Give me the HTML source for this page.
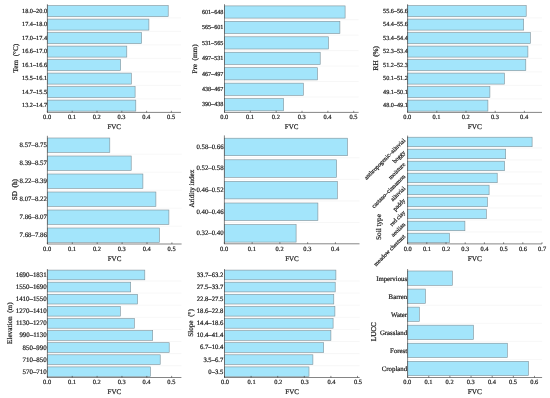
<!DOCTYPE html><html><head><meta charset="utf-8"><style>html,body{margin:0;padding:0;background:#fff}svg{display:block}</style></head><body><svg width="550" height="398" viewBox="0 0 550 398" font-family="Liberation Serif, Times New Roman, serif" text-rendering="geometricPrecision" fill="#1a1a1a"><g stroke="#1a1a1a" stroke-width="0.2">
<rect width="550" height="398" fill="#fff" stroke="none"/>
<line x1="47.4" y1="17.85" x2="181" y2="17.85" stroke="#eeeeee" stroke-width="0.5"/>
<line x1="47.4" y1="31.35" x2="181" y2="31.35" stroke="#eeeeee" stroke-width="0.5"/>
<line x1="47.4" y1="44.85" x2="181" y2="44.85" stroke="#eeeeee" stroke-width="0.5"/>
<line x1="47.4" y1="58.35" x2="181" y2="58.35" stroke="#eeeeee" stroke-width="0.5"/>
<line x1="47.4" y1="71.85" x2="181" y2="71.85" stroke="#eeeeee" stroke-width="0.5"/>
<line x1="47.4" y1="85.35" x2="181" y2="85.35" stroke="#eeeeee" stroke-width="0.5"/>
<line x1="47.4" y1="98.85" x2="181" y2="98.85" stroke="#eeeeee" stroke-width="0.5"/>
<rect x="47.4" y="5.60" width="120.80" height="11" fill="#a3e5fb" stroke="#7f9098" stroke-width="0.6"/>
<text transform="translate(47.00 12.86) scale(1.0 1)" font-size="6.25" text-anchor="end">18.0–20.0</text>
<rect x="47.4" y="19.10" width="101.50" height="11" fill="#a3e5fb" stroke="#7f9098" stroke-width="0.6"/>
<text transform="translate(47.00 26.36) scale(1.0 1)" font-size="6.25" text-anchor="end">17.4–18.0</text>
<rect x="47.4" y="32.60" width="94.20" height="11" fill="#a3e5fb" stroke="#7f9098" stroke-width="0.6"/>
<text transform="translate(47.00 39.86) scale(1.0 1)" font-size="6.25" text-anchor="end">17.0–17.4</text>
<rect x="47.4" y="46.10" width="79.40" height="11" fill="#a3e5fb" stroke="#7f9098" stroke-width="0.6"/>
<text transform="translate(47.00 53.36) scale(1.0 1)" font-size="6.25" text-anchor="end">16.6–17.0</text>
<rect x="47.4" y="59.60" width="73.20" height="11" fill="#a3e5fb" stroke="#7f9098" stroke-width="0.6"/>
<text transform="translate(47.00 66.86) scale(1.0 1)" font-size="6.25" text-anchor="end">16.1–16.6</text>
<rect x="47.4" y="73.10" width="83.90" height="11" fill="#a3e5fb" stroke="#7f9098" stroke-width="0.6"/>
<text transform="translate(47.00 80.36) scale(1.0 1)" font-size="6.25" text-anchor="end">15.5–16.1</text>
<rect x="47.4" y="86.60" width="87.70" height="11" fill="#a3e5fb" stroke="#7f9098" stroke-width="0.6"/>
<text transform="translate(47.00 93.86) scale(1.0 1)" font-size="6.25" text-anchor="end">14.7–15.5</text>
<rect x="47.4" y="100.10" width="88.40" height="11" fill="#a3e5fb" stroke="#7f9098" stroke-width="0.6"/>
<text transform="translate(47.00 107.36) scale(1.0 1)" font-size="6.25" text-anchor="end">13.2–14.7</text>
<line x1="47.4" y1="4.2" x2="47.4" y2="112.4" stroke="#444" stroke-width="0.65"/>
<line x1="47.0" y1="112.4" x2="181" y2="112.4" stroke="#333" stroke-width="0.6"/>
<line x1="47.40" y1="112.4" x2="47.40" y2="110.8" stroke="#333" stroke-width="0.6"/>
<text transform="translate(47.10 119.10) scale(1.0 1)" font-size="6.45" text-anchor="middle">0.0</text>
<line x1="72.20" y1="112.4" x2="72.20" y2="110.8" stroke="#333" stroke-width="0.6"/>
<text transform="translate(71.90 119.10) scale(1.0 1)" font-size="6.45" text-anchor="middle">0.1</text>
<line x1="97.00" y1="112.4" x2="97.00" y2="110.8" stroke="#333" stroke-width="0.6"/>
<text transform="translate(96.70 119.10) scale(1.0 1)" font-size="6.45" text-anchor="middle">0.2</text>
<line x1="121.80" y1="112.4" x2="121.80" y2="110.8" stroke="#333" stroke-width="0.6"/>
<text transform="translate(121.50 119.10) scale(1.0 1)" font-size="6.45" text-anchor="middle">0.3</text>
<line x1="146.60" y1="112.4" x2="146.60" y2="110.8" stroke="#333" stroke-width="0.6"/>
<text transform="translate(146.30 119.10) scale(1.0 1)" font-size="6.45" text-anchor="middle">0.4</text>
<line x1="171.40" y1="112.4" x2="171.40" y2="110.8" stroke="#333" stroke-width="0.6"/>
<text transform="translate(171.10 119.10) scale(1.0 1)" font-size="6.45" text-anchor="middle">0.5</text>
<text transform="translate(114.20 129.10) scale(1.0 1)" font-size="7.00" text-anchor="middle">FVC</text>
<text transform="translate(17.50 58.20) rotate(-90) scale(1.0 1)" font-size="7.20" text-anchor="middle">Tem <tspan dx="1.8">(°C)</tspan></text>
<line x1="224.5" y1="19.73" x2="358.6" y2="19.73" stroke="#eeeeee" stroke-width="0.5"/>
<line x1="224.5" y1="35.17" x2="358.6" y2="35.17" stroke="#eeeeee" stroke-width="0.5"/>
<line x1="224.5" y1="50.62" x2="358.6" y2="50.62" stroke="#eeeeee" stroke-width="0.5"/>
<line x1="224.5" y1="66.07" x2="358.6" y2="66.07" stroke="#eeeeee" stroke-width="0.5"/>
<line x1="224.5" y1="81.53" x2="358.6" y2="81.53" stroke="#eeeeee" stroke-width="0.5"/>
<line x1="224.5" y1="96.98" x2="358.6" y2="96.98" stroke="#eeeeee" stroke-width="0.5"/>
<rect x="224.5" y="5.90" width="120.60" height="12.2" fill="#a3e5fb" stroke="#7f9098" stroke-width="0.6"/>
<text transform="translate(223.40 13.73) scale(1.0 1)" font-size="6.15" text-anchor="end">601–648</text>
<rect x="224.5" y="21.35" width="115.40" height="12.2" fill="#a3e5fb" stroke="#7f9098" stroke-width="0.6"/>
<text transform="translate(223.40 29.18) scale(1.0 1)" font-size="6.15" text-anchor="end">565–601</text>
<rect x="224.5" y="36.80" width="104.00" height="12.2" fill="#a3e5fb" stroke="#7f9098" stroke-width="0.6"/>
<text transform="translate(223.40 44.63) scale(1.0 1)" font-size="6.15" text-anchor="end">531–565</text>
<rect x="224.5" y="52.25" width="95.70" height="12.2" fill="#a3e5fb" stroke="#7f9098" stroke-width="0.6"/>
<text transform="translate(223.40 60.08) scale(1.0 1)" font-size="6.15" text-anchor="end">497–531</text>
<rect x="224.5" y="67.70" width="93.00" height="12.2" fill="#a3e5fb" stroke="#7f9098" stroke-width="0.6"/>
<text transform="translate(223.40 75.53) scale(1.0 1)" font-size="6.15" text-anchor="end">467–497</text>
<rect x="224.5" y="83.15" width="78.80" height="12.2" fill="#a3e5fb" stroke="#7f9098" stroke-width="0.6"/>
<text transform="translate(223.40 90.98) scale(1.0 1)" font-size="6.15" text-anchor="end">438–467</text>
<rect x="224.5" y="98.60" width="59.10" height="12.2" fill="#a3e5fb" stroke="#7f9098" stroke-width="0.6"/>
<text transform="translate(223.40 106.43) scale(1.0 1)" font-size="6.15" text-anchor="end">390–438</text>
<line x1="224.5" y1="4.2" x2="224.5" y2="112.4" stroke="#444" stroke-width="0.65"/>
<line x1="224.1" y1="112.4" x2="358.6" y2="112.4" stroke="#333" stroke-width="0.6"/>
<line x1="224.50" y1="112.4" x2="224.50" y2="110.8" stroke="#333" stroke-width="0.6"/>
<text transform="translate(224.20 119.10) scale(1.0 1)" font-size="6.45" text-anchor="middle">0.0</text>
<line x1="250.34" y1="112.4" x2="250.34" y2="110.8" stroke="#333" stroke-width="0.6"/>
<text transform="translate(250.04 119.10) scale(1.0 1)" font-size="6.45" text-anchor="middle">0.1</text>
<line x1="276.18" y1="112.4" x2="276.18" y2="110.8" stroke="#333" stroke-width="0.6"/>
<text transform="translate(275.88 119.10) scale(1.0 1)" font-size="6.45" text-anchor="middle">0.2</text>
<line x1="302.02" y1="112.4" x2="302.02" y2="110.8" stroke="#333" stroke-width="0.6"/>
<text transform="translate(301.72 119.10) scale(1.0 1)" font-size="6.45" text-anchor="middle">0.3</text>
<line x1="327.86" y1="112.4" x2="327.86" y2="110.8" stroke="#333" stroke-width="0.6"/>
<text transform="translate(327.56 119.10) scale(1.0 1)" font-size="6.45" text-anchor="middle">0.4</text>
<line x1="353.70" y1="112.4" x2="353.70" y2="110.8" stroke="#333" stroke-width="0.6"/>
<text transform="translate(353.40 119.10) scale(1.0 1)" font-size="6.45" text-anchor="middle">0.5</text>
<text transform="translate(291.55 129.10) scale(1.0 1)" font-size="7.00" text-anchor="middle">FVC</text>
<text transform="translate(197.30 59.00) rotate(-90) scale(1.0 1)" font-size="7.20" text-anchor="middle">Pre <tspan dx="1.8">(mm)</tspan></text>
<line x1="407.6" y1="17.85" x2="542" y2="17.85" stroke="#eeeeee" stroke-width="0.5"/>
<line x1="407.6" y1="31.35" x2="542" y2="31.35" stroke="#eeeeee" stroke-width="0.5"/>
<line x1="407.6" y1="44.85" x2="542" y2="44.85" stroke="#eeeeee" stroke-width="0.5"/>
<line x1="407.6" y1="58.35" x2="542" y2="58.35" stroke="#eeeeee" stroke-width="0.5"/>
<line x1="407.6" y1="71.85" x2="542" y2="71.85" stroke="#eeeeee" stroke-width="0.5"/>
<line x1="407.6" y1="85.35" x2="542" y2="85.35" stroke="#eeeeee" stroke-width="0.5"/>
<line x1="407.6" y1="98.85" x2="542" y2="98.85" stroke="#eeeeee" stroke-width="0.5"/>
<rect x="407.6" y="5.60" width="118.60" height="11" fill="#a3e5fb" stroke="#7f9098" stroke-width="0.6"/>
<text transform="translate(407.80 12.85) scale(1.0 1)" font-size="6.20" text-anchor="end">55.6–56.6</text>
<rect x="407.6" y="19.10" width="116.10" height="11" fill="#a3e5fb" stroke="#7f9098" stroke-width="0.6"/>
<text transform="translate(407.80 26.35) scale(1.0 1)" font-size="6.20" text-anchor="end">54.4–55.6</text>
<rect x="407.6" y="32.60" width="122.70" height="11" fill="#a3e5fb" stroke="#7f9098" stroke-width="0.6"/>
<text transform="translate(407.80 39.85) scale(1.0 1)" font-size="6.20" text-anchor="end">53.4–54.4</text>
<rect x="407.6" y="46.10" width="120.30" height="11" fill="#a3e5fb" stroke="#7f9098" stroke-width="0.6"/>
<text transform="translate(407.80 53.35) scale(1.0 1)" font-size="6.20" text-anchor="end">52.3–53.4</text>
<rect x="407.6" y="59.60" width="118.20" height="11" fill="#a3e5fb" stroke="#7f9098" stroke-width="0.6"/>
<text transform="translate(407.80 66.85) scale(1.0 1)" font-size="6.20" text-anchor="end">51.2–52.3</text>
<rect x="407.6" y="73.10" width="96.80" height="11" fill="#a3e5fb" stroke="#7f9098" stroke-width="0.6"/>
<text transform="translate(407.80 80.35) scale(1.0 1)" font-size="6.20" text-anchor="end">50.1–51.2</text>
<rect x="407.6" y="86.60" width="82.30" height="11" fill="#a3e5fb" stroke="#7f9098" stroke-width="0.6"/>
<text transform="translate(407.80 93.85) scale(1.0 1)" font-size="6.20" text-anchor="end">49.1–50.1</text>
<rect x="407.6" y="100.10" width="80.30" height="11" fill="#a3e5fb" stroke="#7f9098" stroke-width="0.6"/>
<text transform="translate(407.80 107.35) scale(1.0 1)" font-size="6.20" text-anchor="end">48.0–49.1</text>
<line x1="407.6" y1="4.2" x2="407.6" y2="112.4" stroke="#444" stroke-width="0.65"/>
<line x1="407.20000000000005" y1="112.4" x2="542" y2="112.4" stroke="#333" stroke-width="0.6"/>
<line x1="407.60" y1="112.4" x2="407.60" y2="110.8" stroke="#333" stroke-width="0.6"/>
<text transform="translate(407.30 119.10) scale(1.0 1)" font-size="6.45" text-anchor="middle">0.0</text>
<line x1="436.80" y1="112.4" x2="436.80" y2="110.8" stroke="#333" stroke-width="0.6"/>
<text transform="translate(436.50 119.10) scale(1.0 1)" font-size="6.45" text-anchor="middle">0.1</text>
<line x1="466.00" y1="112.4" x2="466.00" y2="110.8" stroke="#333" stroke-width="0.6"/>
<text transform="translate(465.70 119.10) scale(1.0 1)" font-size="6.45" text-anchor="middle">0.2</text>
<line x1="495.20" y1="112.4" x2="495.20" y2="110.8" stroke="#333" stroke-width="0.6"/>
<text transform="translate(494.90 119.10) scale(1.0 1)" font-size="6.45" text-anchor="middle">0.3</text>
<line x1="524.40" y1="112.4" x2="524.40" y2="110.8" stroke="#333" stroke-width="0.6"/>
<text transform="translate(524.10 119.10) scale(1.0 1)" font-size="6.45" text-anchor="middle">0.4</text>
<text transform="translate(474.80 129.10) scale(1.0 1)" font-size="7.30" text-anchor="middle">FVC</text>
<text transform="translate(378.00 58.20) rotate(-90) scale(1.0 1)" font-size="7.20" text-anchor="middle" stroke-width="0.28">RH <tspan dx="1.8">(%)</tspan></text>
<line x1="47.4" y1="154.20" x2="181.6" y2="154.20" stroke="#eeeeee" stroke-width="0.5"/>
<line x1="47.4" y1="172.20" x2="181.6" y2="172.20" stroke="#eeeeee" stroke-width="0.5"/>
<line x1="47.4" y1="190.20" x2="181.6" y2="190.20" stroke="#eeeeee" stroke-width="0.5"/>
<line x1="47.4" y1="208.20" x2="181.6" y2="208.20" stroke="#eeeeee" stroke-width="0.5"/>
<line x1="47.4" y1="226.20" x2="181.6" y2="226.20" stroke="#eeeeee" stroke-width="0.5"/>
<rect x="47.4" y="138.00" width="62.40" height="14.4" fill="#a3e5fb" stroke="#7f9098" stroke-width="0.6"/>
<text transform="translate(46.80 147.14) scale(1.0 1)" font-size="6.80" text-anchor="end">8.57–8.75</text>
<rect x="47.4" y="156.00" width="83.80" height="14.4" fill="#a3e5fb" stroke="#7f9098" stroke-width="0.6"/>
<text transform="translate(46.80 165.14) scale(1.0 1)" font-size="6.80" text-anchor="end">8.39–8.57</text>
<rect x="47.4" y="174.00" width="95.50" height="14.4" fill="#a3e5fb" stroke="#7f9098" stroke-width="0.6"/>
<text transform="translate(46.80 183.14) scale(1.0 1)" font-size="6.80" text-anchor="end">8.22–8.39</text>
<rect x="47.4" y="192.00" width="108.50" height="14.4" fill="#a3e5fb" stroke="#7f9098" stroke-width="0.6"/>
<text transform="translate(46.80 201.14) scale(1.0 1)" font-size="6.80" text-anchor="end">8.07–8.22</text>
<rect x="47.4" y="210.00" width="121.50" height="14.4" fill="#a3e5fb" stroke="#7f9098" stroke-width="0.6"/>
<text transform="translate(46.80 219.14) scale(1.0 1)" font-size="6.80" text-anchor="end">7.86–8.07</text>
<rect x="47.4" y="228.00" width="112.00" height="14.4" fill="#a3e5fb" stroke="#7f9098" stroke-width="0.6"/>
<text transform="translate(46.80 237.14) scale(1.0 1)" font-size="6.80" text-anchor="end">7.68–7.86</text>
<line x1="47.4" y1="135.8" x2="47.4" y2="244.0" stroke="#444" stroke-width="0.65"/>
<line x1="47.0" y1="244.0" x2="181.6" y2="244.0" stroke="#333" stroke-width="0.6"/>
<line x1="47.40" y1="244.0" x2="47.40" y2="242.4" stroke="#333" stroke-width="0.6"/>
<text transform="translate(47.10 250.70) scale(1.0 1)" font-size="6.45" text-anchor="middle">0.0</text>
<line x1="72.30" y1="244.0" x2="72.30" y2="242.4" stroke="#333" stroke-width="0.6"/>
<text transform="translate(72.00 250.70) scale(1.0 1)" font-size="6.45" text-anchor="middle">0.1</text>
<line x1="97.20" y1="244.0" x2="97.20" y2="242.4" stroke="#333" stroke-width="0.6"/>
<text transform="translate(96.90 250.70) scale(1.0 1)" font-size="6.45" text-anchor="middle">0.2</text>
<line x1="122.10" y1="244.0" x2="122.10" y2="242.4" stroke="#333" stroke-width="0.6"/>
<text transform="translate(121.80 250.70) scale(1.0 1)" font-size="6.45" text-anchor="middle">0.3</text>
<line x1="147.00" y1="244.0" x2="147.00" y2="242.4" stroke="#333" stroke-width="0.6"/>
<text transform="translate(146.70 250.70) scale(1.0 1)" font-size="6.45" text-anchor="middle">0.4</text>
<line x1="171.90" y1="244.0" x2="171.90" y2="242.4" stroke="#333" stroke-width="0.6"/>
<text transform="translate(171.60 250.70) scale(1.0 1)" font-size="6.45" text-anchor="middle">0.5</text>
<text transform="translate(114.50 260.70) scale(1.0 1)" font-size="7.00" text-anchor="middle">FVC</text>
<text transform="translate(16.70 189.70) rotate(-90) scale(1.0 1)" font-size="7.20" text-anchor="middle" stroke-width="0.28">SD <tspan dx="1.8">(h)</tspan></text>
<line x1="224.4" y1="157.75" x2="359.5" y2="157.75" stroke="#eeeeee" stroke-width="0.5"/>
<line x1="224.4" y1="179.35" x2="359.5" y2="179.35" stroke="#eeeeee" stroke-width="0.5"/>
<line x1="224.4" y1="200.95" x2="359.5" y2="200.95" stroke="#eeeeee" stroke-width="0.5"/>
<line x1="224.4" y1="222.55" x2="359.5" y2="222.55" stroke="#eeeeee" stroke-width="0.5"/>
<rect x="224.4" y="138.20" width="123.10" height="17.5" fill="#a3e5fb" stroke="#7f9098" stroke-width="0.6"/>
<text transform="translate(223.60 148.89) scale(1.0 1)" font-size="6.80" text-anchor="end">0.58–0.66</text>
<rect x="224.4" y="159.80" width="112.20" height="17.5" fill="#a3e5fb" stroke="#7f9098" stroke-width="0.6"/>
<text transform="translate(223.60 170.49) scale(1.0 1)" font-size="6.80" text-anchor="end">0.52–0.58</text>
<rect x="224.4" y="181.40" width="112.90" height="17.5" fill="#a3e5fb" stroke="#7f9098" stroke-width="0.6"/>
<text transform="translate(223.60 192.09) scale(1.0 1)" font-size="6.80" text-anchor="end">0.46–0.52</text>
<rect x="224.4" y="203.00" width="93.50" height="17.5" fill="#a3e5fb" stroke="#7f9098" stroke-width="0.6"/>
<text transform="translate(223.60 213.69) scale(1.0 1)" font-size="6.80" text-anchor="end">0.40–0.46</text>
<rect x="224.4" y="224.60" width="71.70" height="17.5" fill="#a3e5fb" stroke="#7f9098" stroke-width="0.6"/>
<text transform="translate(223.60 235.29) scale(1.0 1)" font-size="6.80" text-anchor="end">0.32–0.40</text>
<line x1="224.4" y1="135.4" x2="224.4" y2="243.8" stroke="#444" stroke-width="0.65"/>
<line x1="224.0" y1="243.8" x2="359.5" y2="243.8" stroke="#333" stroke-width="0.6"/>
<line x1="224.40" y1="243.8" x2="224.40" y2="242.20000000000002" stroke="#333" stroke-width="0.6"/>
<text transform="translate(224.10 250.50) scale(1.0 1)" font-size="6.45" text-anchor="middle">0.0</text>
<line x1="252.15" y1="243.8" x2="252.15" y2="242.20000000000002" stroke="#333" stroke-width="0.6"/>
<text transform="translate(251.85 250.50) scale(1.0 1)" font-size="6.45" text-anchor="middle">0.1</text>
<line x1="279.90" y1="243.8" x2="279.90" y2="242.20000000000002" stroke="#333" stroke-width="0.6"/>
<text transform="translate(279.60 250.50) scale(1.0 1)" font-size="6.45" text-anchor="middle">0.2</text>
<line x1="307.65" y1="243.8" x2="307.65" y2="242.20000000000002" stroke="#333" stroke-width="0.6"/>
<text transform="translate(307.35 250.50) scale(1.0 1)" font-size="6.45" text-anchor="middle">0.3</text>
<line x1="335.40" y1="243.8" x2="335.40" y2="242.20000000000002" stroke="#333" stroke-width="0.6"/>
<text transform="translate(335.10 250.50) scale(1.0 1)" font-size="6.45" text-anchor="middle">0.4</text>
<text transform="translate(291.95 260.50) scale(1.0 1)" font-size="7.00" text-anchor="middle">FVC</text>
<text transform="translate(194.20 188.70) rotate(-90) scale(1.0 1)" font-size="7.05" text-anchor="middle">Aridity index</text>
<line x1="407.6" y1="147.95" x2="542" y2="147.95" stroke="#eeeeee" stroke-width="0.5"/>
<line x1="407.6" y1="159.95" x2="542" y2="159.95" stroke="#eeeeee" stroke-width="0.5"/>
<line x1="407.6" y1="171.95" x2="542" y2="171.95" stroke="#eeeeee" stroke-width="0.5"/>
<line x1="407.6" y1="183.95" x2="542" y2="183.95" stroke="#eeeeee" stroke-width="0.5"/>
<line x1="407.6" y1="195.95" x2="542" y2="195.95" stroke="#eeeeee" stroke-width="0.5"/>
<line x1="407.6" y1="207.95" x2="542" y2="207.95" stroke="#eeeeee" stroke-width="0.5"/>
<line x1="407.6" y1="219.95" x2="542" y2="219.95" stroke="#eeeeee" stroke-width="0.5"/>
<line x1="407.6" y1="231.95" x2="542" y2="231.95" stroke="#eeeeee" stroke-width="0.5"/>
<rect x="407.6" y="137.20" width="124.50" height="9.5" fill="#a3e5fb" stroke="#7f9098" stroke-width="0.6"/>
<text transform="translate(405.60 140.85) rotate(-45) scale(1.0 1)" font-size="6.00" text-anchor="end">anthropogenic–alluvial</text>
<rect x="407.6" y="149.20" width="98.10" height="9.5" fill="#a3e5fb" stroke="#7f9098" stroke-width="0.6"/>
<text transform="translate(405.60 152.85) rotate(-45) scale(1.0 1)" font-size="6.00" text-anchor="end">boggy</text>
<rect x="407.6" y="161.20" width="97.00" height="9.5" fill="#a3e5fb" stroke="#7f9098" stroke-width="0.6"/>
<text transform="translate(405.60 164.85) rotate(-45) scale(1.0 1)" font-size="6.00" text-anchor="end">moisture</text>
<rect x="407.6" y="173.20" width="89.60" height="9.5" fill="#a3e5fb" stroke="#7f9098" stroke-width="0.6"/>
<text transform="translate(405.60 176.85) rotate(-45) scale(1.0 1)" font-size="6.00" text-anchor="end">castano–cinnamon</text>
<rect x="407.6" y="185.20" width="81.50" height="9.5" fill="#a3e5fb" stroke="#7f9098" stroke-width="0.6"/>
<text transform="translate(405.60 188.85) rotate(-45) scale(1.0 1)" font-size="6.00" text-anchor="end">alluvial</text>
<rect x="407.6" y="197.20" width="79.80" height="9.5" fill="#a3e5fb" stroke="#7f9098" stroke-width="0.6"/>
<text transform="translate(405.60 200.85) rotate(-45) scale(1.0 1)" font-size="6.00" text-anchor="end">paddy</text>
<rect x="407.6" y="209.20" width="78.70" height="9.5" fill="#a3e5fb" stroke="#7f9098" stroke-width="0.6"/>
<text transform="translate(405.60 212.85) rotate(-45) scale(1.0 1)" font-size="6.00" text-anchor="end">red clay</text>
<rect x="407.6" y="221.20" width="57.30" height="9.5" fill="#a3e5fb" stroke="#7f9098" stroke-width="0.6"/>
<text transform="translate(405.60 224.85) rotate(-45) scale(1.0 1)" font-size="6.00" text-anchor="end">aeolian</text>
<rect x="407.6" y="233.20" width="41.80" height="9.5" fill="#a3e5fb" stroke="#7f9098" stroke-width="0.6"/>
<text transform="translate(405.60 236.85) rotate(-45) scale(1.0 1)" font-size="6.00" text-anchor="end">meadow chestnut</text>
<line x1="407.6" y1="135.6" x2="407.6" y2="243.9" stroke="#444" stroke-width="0.65"/>
<line x1="407.20000000000005" y1="243.9" x2="542" y2="243.9" stroke="#333" stroke-width="0.6"/>
<line x1="407.60" y1="243.9" x2="407.60" y2="242.3" stroke="#333" stroke-width="0.6"/>
<text transform="translate(407.70 250.60) scale(1.0 1)" font-size="6.45" text-anchor="middle">0.0</text>
<line x1="426.80" y1="243.9" x2="426.80" y2="242.3" stroke="#333" stroke-width="0.6"/>
<text transform="translate(426.90 250.60) scale(1.0 1)" font-size="6.45" text-anchor="middle">0.1</text>
<line x1="446.00" y1="243.9" x2="446.00" y2="242.3" stroke="#333" stroke-width="0.6"/>
<text transform="translate(446.10 250.60) scale(1.0 1)" font-size="6.45" text-anchor="middle">0.2</text>
<line x1="465.20" y1="243.9" x2="465.20" y2="242.3" stroke="#333" stroke-width="0.6"/>
<text transform="translate(465.30 250.60) scale(1.0 1)" font-size="6.45" text-anchor="middle">0.3</text>
<line x1="484.40" y1="243.9" x2="484.40" y2="242.3" stroke="#333" stroke-width="0.6"/>
<text transform="translate(484.50 250.60) scale(1.0 1)" font-size="6.45" text-anchor="middle">0.4</text>
<line x1="503.60" y1="243.9" x2="503.60" y2="242.3" stroke="#333" stroke-width="0.6"/>
<text transform="translate(503.70 250.60) scale(1.0 1)" font-size="6.45" text-anchor="middle">0.5</text>
<line x1="522.80" y1="243.9" x2="522.80" y2="242.3" stroke="#333" stroke-width="0.6"/>
<text transform="translate(522.90 250.60) scale(1.0 1)" font-size="6.45" text-anchor="middle">0.6</text>
<line x1="542.00" y1="243.9" x2="542.00" y2="242.3" stroke="#333" stroke-width="0.6"/>
<text transform="translate(542.10 250.60) scale(1.0 1)" font-size="6.45" text-anchor="middle">0.7</text>
<text transform="translate(474.80 260.60) scale(1.0 1)" font-size="7.30" text-anchor="middle">FVC</text>
<text transform="translate(381.30 227.00) rotate(-90) scale(1.0 1)" font-size="7.20" text-anchor="middle">Soil type</text>
<line x1="47.4" y1="281.00" x2="181.4" y2="281.00" stroke="#eeeeee" stroke-width="0.5"/>
<line x1="47.4" y1="293.10" x2="181.4" y2="293.10" stroke="#eeeeee" stroke-width="0.5"/>
<line x1="47.4" y1="305.20" x2="181.4" y2="305.20" stroke="#eeeeee" stroke-width="0.5"/>
<line x1="47.4" y1="317.30" x2="181.4" y2="317.30" stroke="#eeeeee" stroke-width="0.5"/>
<line x1="47.4" y1="329.40" x2="181.4" y2="329.40" stroke="#eeeeee" stroke-width="0.5"/>
<line x1="47.4" y1="341.50" x2="181.4" y2="341.50" stroke="#eeeeee" stroke-width="0.5"/>
<line x1="47.4" y1="353.60" x2="181.4" y2="353.60" stroke="#eeeeee" stroke-width="0.5"/>
<line x1="47.4" y1="365.70" x2="181.4" y2="365.70" stroke="#eeeeee" stroke-width="0.5"/>
<rect x="47.4" y="270.10" width="97.40" height="9.7" fill="#a3e5fb" stroke="#7f9098" stroke-width="0.6"/>
<text transform="translate(46.70 276.93) scale(1.0 1)" font-size="6.90" text-anchor="end">1690–1831</text>
<rect x="47.4" y="282.20" width="83.30" height="9.7" fill="#a3e5fb" stroke="#7f9098" stroke-width="0.6"/>
<text transform="translate(46.70 289.03) scale(1.0 1)" font-size="6.90" text-anchor="end">1550–1690</text>
<rect x="47.4" y="294.30" width="90.20" height="9.7" fill="#a3e5fb" stroke="#7f9098" stroke-width="0.6"/>
<text transform="translate(46.70 301.13) scale(1.0 1)" font-size="6.90" text-anchor="end">1410–1550</text>
<rect x="47.4" y="306.40" width="72.90" height="9.7" fill="#a3e5fb" stroke="#7f9098" stroke-width="0.6"/>
<text transform="translate(46.70 313.23) scale(1.0 1)" font-size="6.90" text-anchor="end">1270–1410</text>
<rect x="47.4" y="318.50" width="86.90" height="9.7" fill="#a3e5fb" stroke="#7f9098" stroke-width="0.6"/>
<text transform="translate(46.70 325.33) scale(1.0 1)" font-size="6.90" text-anchor="end">1130–1270</text>
<rect x="47.4" y="330.60" width="105.30" height="9.7" fill="#a3e5fb" stroke="#7f9098" stroke-width="0.6"/>
<text transform="translate(46.70 337.43) scale(1.0 1)" font-size="6.90" text-anchor="end">990–1130</text>
<rect x="47.4" y="342.70" width="121.80" height="9.7" fill="#a3e5fb" stroke="#7f9098" stroke-width="0.6"/>
<text transform="translate(46.70 349.53) scale(1.0 1)" font-size="6.90" text-anchor="end">850–990</text>
<rect x="47.4" y="354.80" width="112.80" height="9.7" fill="#a3e5fb" stroke="#7f9098" stroke-width="0.6"/>
<text transform="translate(46.70 361.63) scale(1.0 1)" font-size="6.90" text-anchor="end">710–850</text>
<rect x="47.4" y="366.90" width="103.10" height="9.7" fill="#a3e5fb" stroke="#7f9098" stroke-width="0.6"/>
<text transform="translate(46.70 373.73) scale(1.0 1)" font-size="6.90" text-anchor="end">570–710</text>
<line x1="47.4" y1="269" x2="47.4" y2="377.5" stroke="#444" stroke-width="0.65"/>
<line x1="47.0" y1="377.5" x2="181.4" y2="377.5" stroke="#333" stroke-width="0.6"/>
<line x1="47.40" y1="377.5" x2="47.40" y2="375.90000000000003" stroke="#333" stroke-width="0.6"/>
<text transform="translate(47.10 384.20) scale(1.0 1)" font-size="6.45" text-anchor="middle">0.0</text>
<line x1="72.25" y1="377.5" x2="72.25" y2="375.90000000000003" stroke="#333" stroke-width="0.6"/>
<text transform="translate(71.95 384.20) scale(1.0 1)" font-size="6.45" text-anchor="middle">0.1</text>
<line x1="97.10" y1="377.5" x2="97.10" y2="375.90000000000003" stroke="#333" stroke-width="0.6"/>
<text transform="translate(96.80 384.20) scale(1.0 1)" font-size="6.45" text-anchor="middle">0.2</text>
<line x1="121.95" y1="377.5" x2="121.95" y2="375.90000000000003" stroke="#333" stroke-width="0.6"/>
<text transform="translate(121.65 384.20) scale(1.0 1)" font-size="6.45" text-anchor="middle">0.3</text>
<line x1="146.80" y1="377.5" x2="146.80" y2="375.90000000000003" stroke="#333" stroke-width="0.6"/>
<text transform="translate(146.50 384.20) scale(1.0 1)" font-size="6.45" text-anchor="middle">0.4</text>
<line x1="171.65" y1="377.5" x2="171.65" y2="375.90000000000003" stroke="#333" stroke-width="0.6"/>
<text transform="translate(171.35 384.20) scale(1.0 1)" font-size="6.45" text-anchor="middle">0.5</text>
<text transform="translate(114.40 394.20) scale(1.0 1)" font-size="7.00" text-anchor="middle">FVC</text>
<text transform="translate(12.20 323.20) rotate(-90) scale(1.0 1)" font-size="7.20" text-anchor="middle">Elevation <tspan dx="1.8">(m)</tspan></text>
<line x1="224.5" y1="281.00" x2="359.6" y2="281.00" stroke="#eeeeee" stroke-width="0.5"/>
<line x1="224.5" y1="293.10" x2="359.6" y2="293.10" stroke="#eeeeee" stroke-width="0.5"/>
<line x1="224.5" y1="305.20" x2="359.6" y2="305.20" stroke="#eeeeee" stroke-width="0.5"/>
<line x1="224.5" y1="317.30" x2="359.6" y2="317.30" stroke="#eeeeee" stroke-width="0.5"/>
<line x1="224.5" y1="329.40" x2="359.6" y2="329.40" stroke="#eeeeee" stroke-width="0.5"/>
<line x1="224.5" y1="341.50" x2="359.6" y2="341.50" stroke="#eeeeee" stroke-width="0.5"/>
<line x1="224.5" y1="353.60" x2="359.6" y2="353.60" stroke="#eeeeee" stroke-width="0.5"/>
<line x1="224.5" y1="365.70" x2="359.6" y2="365.70" stroke="#eeeeee" stroke-width="0.5"/>
<rect x="224.5" y="270.10" width="111.40" height="9.7" fill="#a3e5fb" stroke="#7f9098" stroke-width="0.6"/>
<text transform="translate(223.30 276.84) scale(1.0 1)" font-size="6.65" text-anchor="end">33.7–63.2</text>
<rect x="224.5" y="282.20" width="110.70" height="9.7" fill="#a3e5fb" stroke="#7f9098" stroke-width="0.6"/>
<text transform="translate(223.30 288.94) scale(1.0 1)" font-size="6.65" text-anchor="end">27.5–33.7</text>
<rect x="224.5" y="294.30" width="109.30" height="9.7" fill="#a3e5fb" stroke="#7f9098" stroke-width="0.6"/>
<text transform="translate(223.30 301.04) scale(1.0 1)" font-size="6.65" text-anchor="end">22.8–27.5</text>
<rect x="224.5" y="306.40" width="110.40" height="9.7" fill="#a3e5fb" stroke="#7f9098" stroke-width="0.6"/>
<text transform="translate(223.30 313.14) scale(1.0 1)" font-size="6.65" text-anchor="end">18.6–22.8</text>
<rect x="224.5" y="318.50" width="108.60" height="9.7" fill="#a3e5fb" stroke="#7f9098" stroke-width="0.6"/>
<text transform="translate(223.30 325.24) scale(1.0 1)" font-size="6.65" text-anchor="end">14.4–18.6</text>
<rect x="224.5" y="330.60" width="106.40" height="9.7" fill="#a3e5fb" stroke="#7f9098" stroke-width="0.6"/>
<text transform="translate(223.30 337.34) scale(1.0 1)" font-size="6.65" text-anchor="end">10.4–41.4</text>
<rect x="224.5" y="342.70" width="99.20" height="9.7" fill="#a3e5fb" stroke="#7f9098" stroke-width="0.6"/>
<text transform="translate(223.30 349.44) scale(1.0 1)" font-size="6.65" text-anchor="end">6.7–10.4</text>
<rect x="224.5" y="354.80" width="88.40" height="9.7" fill="#a3e5fb" stroke="#7f9098" stroke-width="0.6"/>
<text transform="translate(223.30 361.54) scale(1.0 1)" font-size="6.65" text-anchor="end">3.5–6.7</text>
<rect x="224.5" y="366.90" width="84.50" height="9.7" fill="#a3e5fb" stroke="#7f9098" stroke-width="0.6"/>
<text transform="translate(223.30 373.64) scale(1.0 1)" font-size="6.65" text-anchor="end">0–3.5</text>
<line x1="224.5" y1="269" x2="224.5" y2="377.5" stroke="#444" stroke-width="0.65"/>
<line x1="224.1" y1="377.5" x2="359.6" y2="377.5" stroke="#333" stroke-width="0.6"/>
<line x1="224.50" y1="377.5" x2="224.50" y2="375.90000000000003" stroke="#333" stroke-width="0.6"/>
<text transform="translate(225.00 384.20) scale(1.0 1)" font-size="6.45" text-anchor="middle">0.0</text>
<line x1="251.10" y1="377.5" x2="251.10" y2="375.90000000000003" stroke="#333" stroke-width="0.6"/>
<text transform="translate(251.60 384.20) scale(1.0 1)" font-size="6.45" text-anchor="middle">0.1</text>
<line x1="277.70" y1="377.5" x2="277.70" y2="375.90000000000003" stroke="#333" stroke-width="0.6"/>
<text transform="translate(278.20 384.20) scale(1.0 1)" font-size="6.45" text-anchor="middle">0.2</text>
<line x1="304.30" y1="377.5" x2="304.30" y2="375.90000000000003" stroke="#333" stroke-width="0.6"/>
<text transform="translate(304.80 384.20) scale(1.0 1)" font-size="6.45" text-anchor="middle">0.3</text>
<line x1="330.90" y1="377.5" x2="330.90" y2="375.90000000000003" stroke="#333" stroke-width="0.6"/>
<text transform="translate(331.40 384.20) scale(1.0 1)" font-size="6.45" text-anchor="middle">0.4</text>
<line x1="357.50" y1="377.5" x2="357.50" y2="375.90000000000003" stroke="#333" stroke-width="0.6"/>
<text transform="translate(358.00 384.20) scale(1.0 1)" font-size="6.45" text-anchor="middle">0.5</text>
<text transform="translate(292.05 394.20) scale(1.0 1)" font-size="7.00" text-anchor="middle">FVC</text>
<text transform="translate(193.00 323.00) rotate(-90) scale(1.0 1)" font-size="7.20" text-anchor="middle">Slope <tspan dx="1.8">(°)</tspan></text>
<line x1="407.6" y1="287.18" x2="542.1" y2="287.18" stroke="#eeeeee" stroke-width="0.5"/>
<line x1="407.6" y1="305.24" x2="542.1" y2="305.24" stroke="#eeeeee" stroke-width="0.5"/>
<line x1="407.6" y1="323.30" x2="542.1" y2="323.30" stroke="#eeeeee" stroke-width="0.5"/>
<line x1="407.6" y1="341.36" x2="542.1" y2="341.36" stroke="#eeeeee" stroke-width="0.5"/>
<line x1="407.6" y1="359.42" x2="542.1" y2="359.42" stroke="#eeeeee" stroke-width="0.5"/>
<rect x="407.6" y="271.00" width="44.70" height="14.3" fill="#a3e5fb" stroke="#7f9098" stroke-width="0.6"/>
<text transform="translate(407.10 280.59) scale(1.0 1)" font-size="6.80" text-anchor="end">Impervious</text>
<rect x="407.6" y="289.06" width="17.80" height="14.3" fill="#a3e5fb" stroke="#7f9098" stroke-width="0.6"/>
<text transform="translate(407.10 298.65) scale(1.0 1)" font-size="6.80" text-anchor="end">Barren</text>
<rect x="407.6" y="307.12" width="11.70" height="14.3" fill="#a3e5fb" stroke="#7f9098" stroke-width="0.6"/>
<text transform="translate(407.10 316.71) scale(1.0 1)" font-size="6.80" text-anchor="end">Water</text>
<rect x="407.6" y="325.18" width="65.90" height="14.3" fill="#a3e5fb" stroke="#7f9098" stroke-width="0.6"/>
<text transform="translate(407.10 334.77) scale(1.0 1)" font-size="6.80" text-anchor="end">Grassland</text>
<rect x="407.6" y="343.24" width="99.70" height="14.3" fill="#a3e5fb" stroke="#7f9098" stroke-width="0.6"/>
<text transform="translate(407.10 352.83) scale(1.0 1)" font-size="6.80" text-anchor="end">Forest</text>
<rect x="407.6" y="361.30" width="120.90" height="14.3" fill="#a3e5fb" stroke="#7f9098" stroke-width="0.6"/>
<text transform="translate(407.10 370.89) scale(1.0 1)" font-size="6.80" text-anchor="end">Cropland</text>
<line x1="407.6" y1="269" x2="407.6" y2="377.5" stroke="#444" stroke-width="0.65"/>
<line x1="407.20000000000005" y1="377.5" x2="542.1" y2="377.5" stroke="#333" stroke-width="0.6"/>
<line x1="407.60" y1="377.5" x2="407.60" y2="375.90000000000003" stroke="#333" stroke-width="0.6"/>
<text transform="translate(407.30 384.20) scale(1.0 1)" font-size="6.45" text-anchor="middle">0.0</text>
<line x1="428.75" y1="377.5" x2="428.75" y2="375.90000000000003" stroke="#333" stroke-width="0.6"/>
<text transform="translate(428.45 384.20) scale(1.0 1)" font-size="6.45" text-anchor="middle">0.1</text>
<line x1="449.90" y1="377.5" x2="449.90" y2="375.90000000000003" stroke="#333" stroke-width="0.6"/>
<text transform="translate(449.60 384.20) scale(1.0 1)" font-size="6.45" text-anchor="middle">0.2</text>
<line x1="471.05" y1="377.5" x2="471.05" y2="375.90000000000003" stroke="#333" stroke-width="0.6"/>
<text transform="translate(470.75 384.20) scale(1.0 1)" font-size="6.45" text-anchor="middle">0.3</text>
<line x1="492.20" y1="377.5" x2="492.20" y2="375.90000000000003" stroke="#333" stroke-width="0.6"/>
<text transform="translate(491.90 384.20) scale(1.0 1)" font-size="6.45" text-anchor="middle">0.4</text>
<line x1="513.35" y1="377.5" x2="513.35" y2="375.90000000000003" stroke="#333" stroke-width="0.6"/>
<text transform="translate(513.05 384.20) scale(1.0 1)" font-size="6.45" text-anchor="middle">0.5</text>
<line x1="534.50" y1="377.5" x2="534.50" y2="375.90000000000003" stroke="#333" stroke-width="0.6"/>
<text transform="translate(534.20 384.20) scale(1.0 1)" font-size="6.45" text-anchor="middle">0.6</text>
<text transform="translate(474.85 394.20) scale(1.0 1)" font-size="7.30" text-anchor="middle">FVC</text>
<text transform="translate(376.00 331.70) rotate(-90) scale(1.0 1)" font-size="7.10" text-anchor="middle" stroke-width="0.28">LUCC</text>
</g></svg></body></html>
